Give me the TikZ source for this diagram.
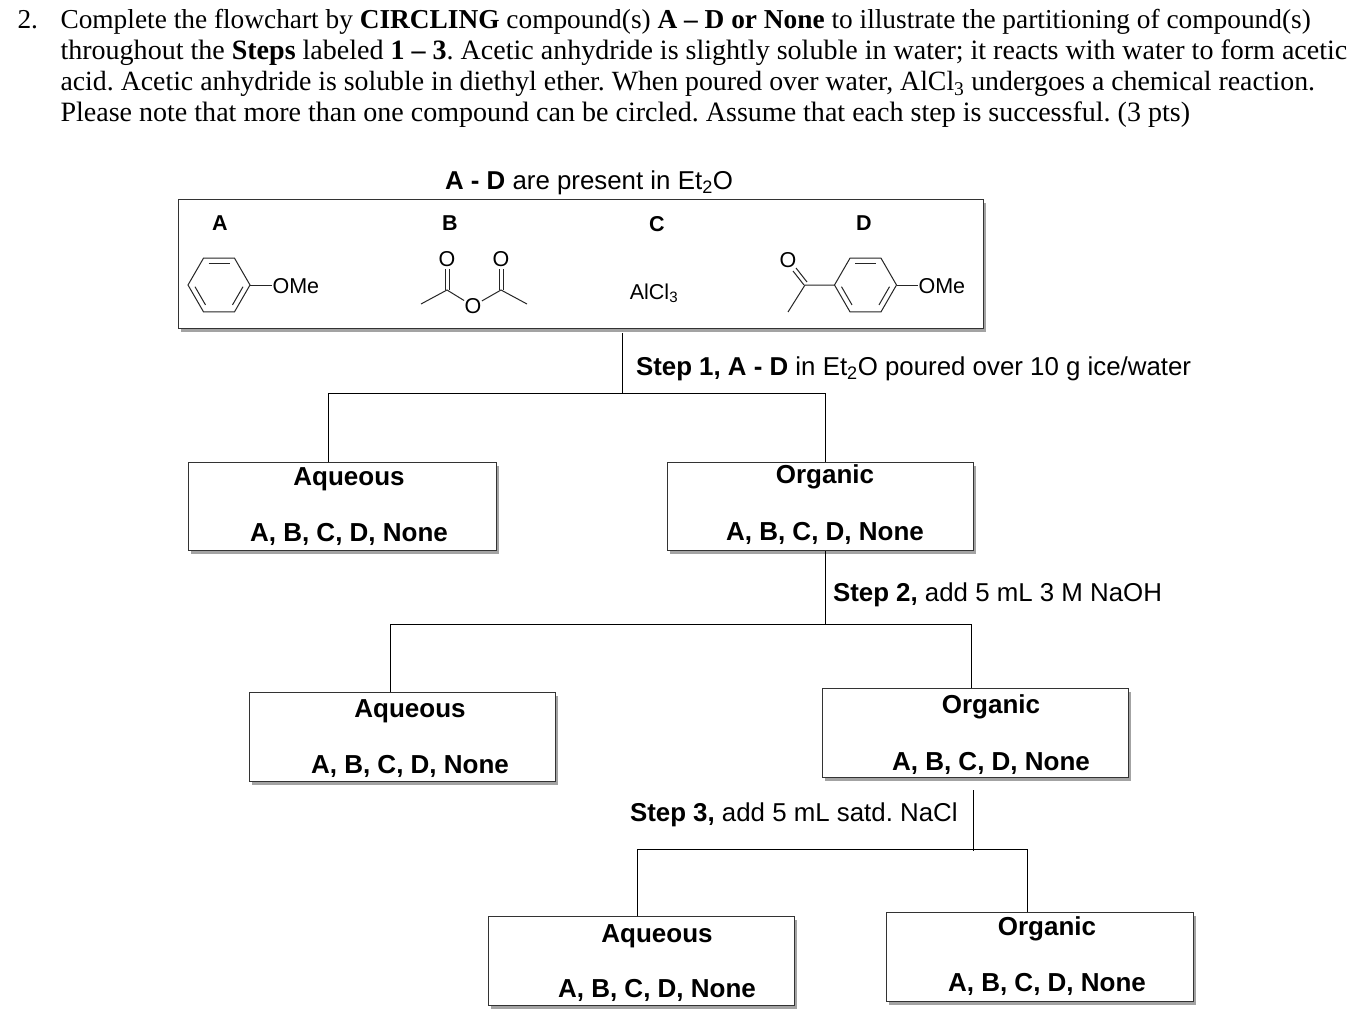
\documentclass[tikz,border=0pt]{standalone}
\usepackage{fontspec}
\setmainfont{Liberation Serif}
\setsansfont{Liberation Sans}
\usetikzlibrary{positioning, shadows, calc}
\newcommand{\Bsize}{\fontsize{26}{31}\selectfont}
\newcommand{\ringat}[3]{% centre x, centre y, radius
  \draw[bond] ($(#1,#2)+(0:#3)$) -- ($(#1,#2)+(60:#3)$) -- ($(#1,#2)+(120:#3)$)
    -- ($(#1,#2)+(180:#3)$) -- ($(#1,#2)+(240:#3)$) -- ($(#1,#2)+(300:#3)$) -- cycle;
  \draw[bond, shorten >=2pt, shorten <=2pt] ($(#1,#2)+(240:#3-6)$) -- ($(#1,#2)+(300:#3-6)$);
  \draw[bond, shorten >=2pt, shorten <=2pt] ($(#1,#2)+(120:#3-6)$) -- ($(#1,#2)+(180:#3-6)$);
  \draw[bond, shorten >=2pt, shorten <=2pt] ($(#1,#2)+(0:#3-6)$) -- ($(#1,#2)+(60:#3-6)$);
}
\begin{document}
\begin{tikzpicture}[
  x=1pt, y=-1pt,
  line width=1.1pt,
  para/.style={anchor=base west, inner sep=0pt, font=\fontsize{#1}{31}\selectfont\frenchspacing},
  box/.style={rectangle, draw=black!80, fill=white, anchor=north west, inner sep=0pt,
              drop shadow={shadow xshift=3pt, shadow yshift=-3pt, fill=black!60, opacity=.6}},
  phasetext/.style={font=\sffamily\bfseries\Bsize, inner sep=0pt},
  stepnote/.style={font=\sffamily\fontsize{25.85}{31}\selectfont\frenchspacing, inner sep=0pt, anchor=west},
  letter/.style={font=\sffamily\bfseries\fontsize{21.5}{24}\selectfont, inner sep=0pt},
  atom/.style={font=\sffamily\fontsize{21.5}{24}\selectfont, inner sep=0pt},
  bond/.style={line width=1pt, black!85},
  link/.style={line width=1pt, black}
]
  \useasboundingbox (0,0) rectangle (1368,1022);
  % question text
  \node[para=27.3] (num) at (17,29) {2.};
  \node[para=27.35] (lineA) at (60,29) {Complete the flowchart by \textbf{CIRCLING} compound(s) \textbf{A -- D or None} to illustrate the partitioning of compound(s)};
  \node[para=28.03] (lineB) at (60,60) {throughout the \textbf{Steps} labeled \textbf{1 -- 3}. Acetic anhydride is slightly soluble in water; it reacts with water to form acetic};
  \node[para=27.8] (lineC) at (60,91) {acid. Acetic anhydride is soluble in diethyl ether. When poured over water, AlCl\textsubscript{3} undergoes a chemical reaction.};
  \node[para=28.03] (lineD) at (60,122) {Please note that more than one compound can be circled. Assume that each step is successful. (3 pts)};
  % top box
  \node[stepnote, anchor=center] (title) at (589,183) {\textbf{A - D} are present in Et\textsubscript{2}O};
  \node[box, minimum width=805pt, minimum height=129pt] (mix) at (177.5,199) {};
  \node[letter] (lA) at (220,223) {A};
  \node[letter] (lB) at (450,223) {B};
  \node[letter] (lC) at (657,224) {C};
  \node[letter] (lD) at (864,223) {D};
  \node[atom] (alcl) at (654,293) {AlCl\textsubscript{3}};
  % A
  \ringat{219}{285}{31}
  \node[atom, anchor=west] (omeA) at (272,286) {OMe};
  \draw[bond] (250,285) -- (omeA.west |- 250,285);
  % B
  \node[atom] (oB) at (447,259) {O};
  \node[atom] (oC) at (501,259) {O};
  \node[atom] (oM) at (473,306) {O};
  \draw[bond] (421,304) -- (447,290) -- (oM);
  \draw[bond] (oM) -- (501,290) -- (527,304);
  \draw[bond] (445,269) -- (445,290);
  \draw[bond] (449,269) -- (449,290);
  \draw[bond] (499,269) -- (499,290);
  \draw[bond] (503,269) -- (503,290);
  % D
  \ringat{865.5}{285}{31}
  \node[atom] (oD) at (788,260) {O};
  \node[atom, anchor=west] (omeD) at (918,286) {OMe};
  \draw[bond] (896.5,285) -- (omeD.west |- 896.5,285);
  \draw[bond] (788,312) -- (805,285) -- (834.5,285);
  \draw[bond] (796,268) -- (807,282);
  \draw[bond] (793,271) -- (804,285);
  % step 1
  \node[stepnote] (stepA) at (635.5,369) {\textbf{Step 1, A - D} in Et\textsubscript{2}O poured over 10 g ice/water};
  \node[box, minimum width=308pt, minimum height=88pt] (aqA) at (187.5,462) {};
  \node[box, minimum width=306pt, minimum height=88pt] (orgA) at (666.5,462) {};
  \node[phasetext] (aqAt) at (349,479) {Aqueous};
  \node[phasetext] (aqAc) at (349,534) {A, B, C, D, None};
  \node[phasetext] (orgAt) at (825,477) {Organic};
  \node[phasetext] (orgAc) at (825,533) {A, B, C, D, None};
  % step 2
  \node[stepnote] (stepB) at (832.5,595) {\textbf{Step 2,} add 5 mL 3 M NaOH};
  \node[box, minimum width=306pt, minimum height=89pt] (aqB) at (248.5,692) {};
  \node[box, minimum width=306pt, minimum height=89pt] (orgB) at (821.5,688) {};
  \node[phasetext] (aqBt) at (410,711) {Aqueous};
  \node[phasetext] (aqBc) at (410,766) {A, B, C, D, None};
  \node[phasetext] (orgBt) at (991,707) {Organic};
  \node[phasetext] (orgBc) at (991,763) {A, B, C, D, None};
  % step 3
  \node[stepnote] (stepC) at (629.5,815) {\textbf{Step 3,} add 5 mL satd. NaCl};
  \node[box, minimum width=306pt, minimum height=89pt] (aqC) at (487.5,916) {};
  \node[box, minimum width=307pt, minimum height=89pt] (orgC) at (885.5,912) {};
  \node[phasetext] (aqCt) at (657,936) {Aqueous};
  \node[phasetext] (aqCc) at (657,990) {A, B, C, D, None};
  \node[phasetext] (orgCt) at (1047,929) {Organic};
  \node[phasetext] (orgCc) at (1047,984) {A, B, C, D, None};
  % connectors
  \coordinate (jA) at (622,333);
  \coordinate (kA) at (622,393);
  \coordinate (lAj) at (328,393);
  \coordinate (rAj) at (825,393);
  \draw[link] (jA) -- (kA);
  \draw[link] (aqA.north -| lAj) -- (lAj) -- (rAj) -- (orgA.north -| rAj);
  \coordinate (kB) at (825,624);
  \coordinate (lBj) at (390,624);
  \coordinate (rBj) at (971,624);
  \draw[link] (orgA.south -| kB) -- (kB);
  \draw[link] (aqB.north -| lBj) -- (lBj) -- (rBj) -- (orgB.north -| rBj);
  \coordinate (jC) at (973,790);
  \coordinate (kC) at (973,851);
  \coordinate (lCj) at (637,849);
  \coordinate (rCj) at (1027,849);
  \draw[link] (jC) -- (kC);
  \draw[link] (aqC.north -| lCj) -- (lCj) -- (rCj) -- (orgC.north -| rCj);
\end{tikzpicture}
\end{document}
